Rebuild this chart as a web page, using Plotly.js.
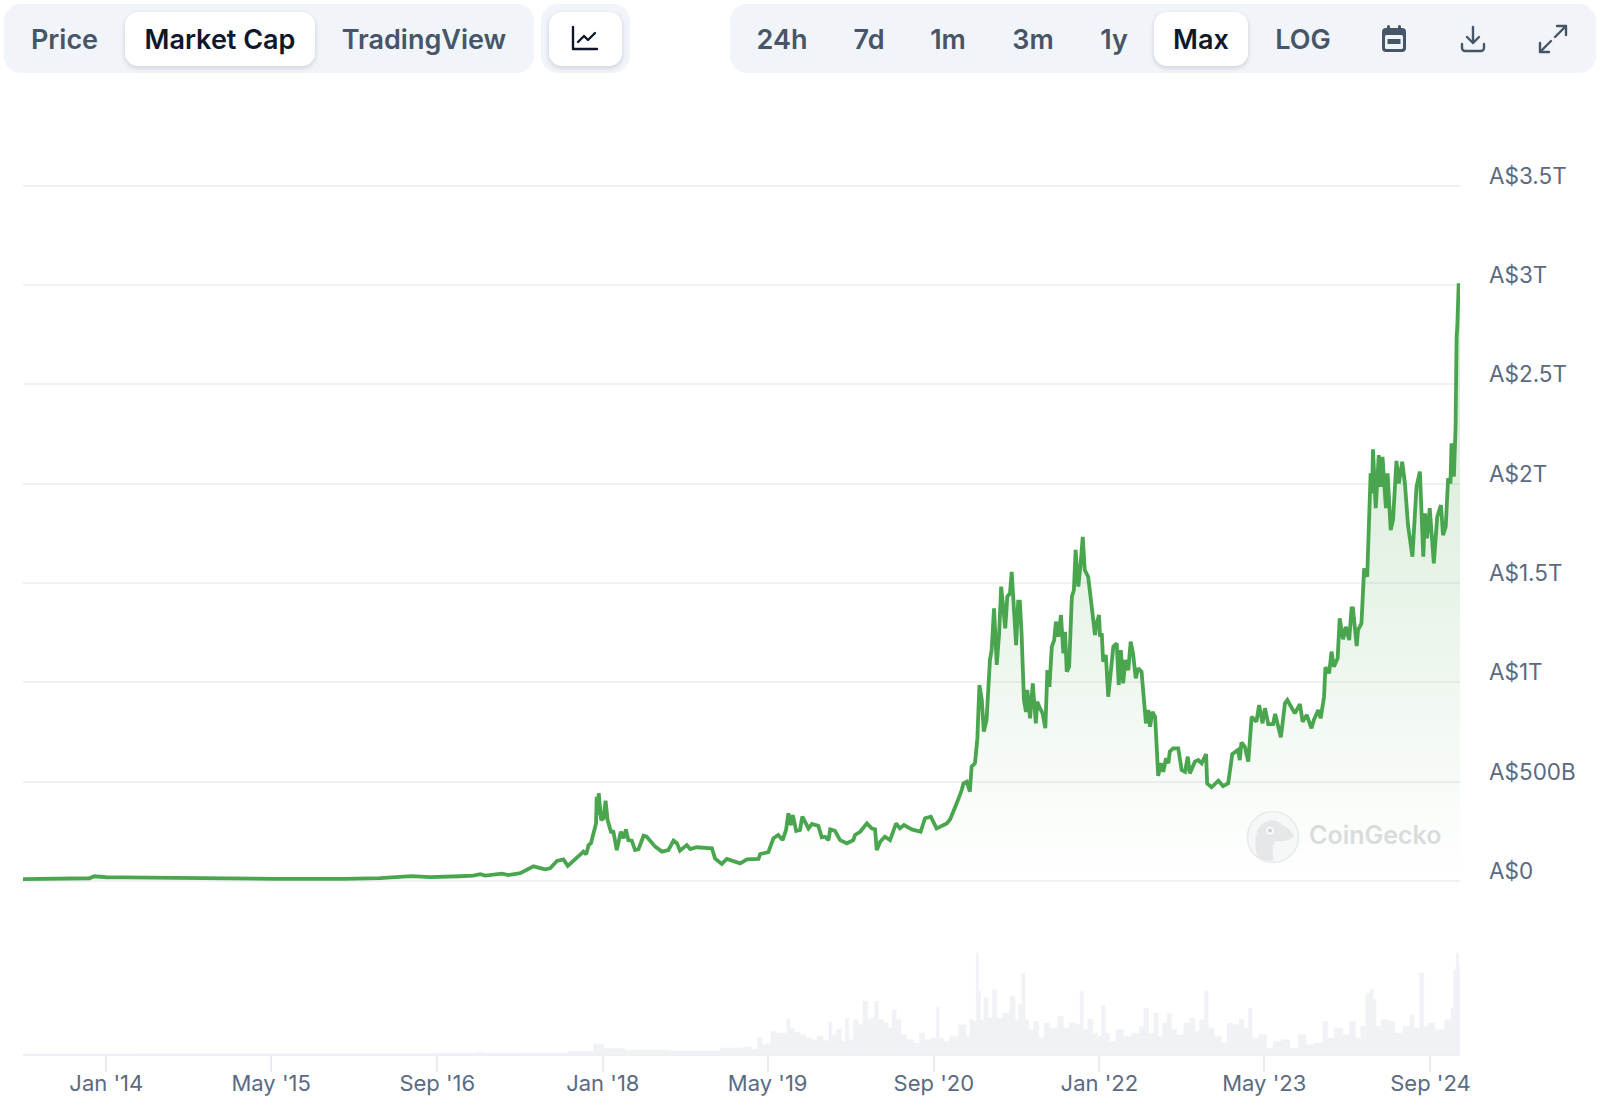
<!DOCTYPE html>
<html>
<head>
<meta charset="utf-8">
<script src="https://cdn.plot.ly/plotly-3.0.1.min.js"></script>
<style>
html,body{margin:0;padding:0;background:#fff;width:1600px;height:1108px;overflow:hidden;font-family:Inter,sans-serif}
#chart{position:absolute;left:0;top:0;width:1600px;height:1108px}
.bar{position:absolute;top:4px;height:69px;background:#f1f4f9;border-radius:17px}
.btn{position:absolute;top:12px;height:54px;background:#fff;border-radius:13px;box-shadow:0 2px 5px rgba(15,23,42,.16)}
.t{position:absolute;top:38.5px;transform:translate(-50%,-50%);font-size:27px;font-weight:600;color:#475569;white-space:nowrap;line-height:1}
.t.on{color:#0f172a}
.i{position:absolute;transform:translate(-50%,-50%);top:38.5px}
#logo{position:absolute;left:1245px;top:809px}
</style>
</head>
<body>
<div id="chart"></div>
<div class="bar" style="left:4px;width:530px"></div>
<div class="bar" style="left:541px;width:89px"></div>
<div class="bar" style="left:730px;width:866px"></div>
<div class="btn" style="left:125px;width:190px"></div>
<div class="btn" style="left:549px;width:73px"></div>
<div class="btn" style="left:1154px;width:94px"></div>
<div class="t" style="left:64.5px">Price</div>
<div class="t on" style="left:220px">Market Cap</div>
<div class="t" style="left:424px">TradingView</div>
<div class="t" style="left:782px">24h</div>
<div class="t" style="left:869px">7d</div>
<div class="t" style="left:948px">1m</div>
<div class="t" style="left:1033px">3m</div>
<div class="t" style="left:1114px">1y</div>
<div class="t on" style="left:1201px">Max</div>
<div class="t" style="left:1303px">LOG</div>
<svg class="i" style="left:585px" width="30" height="30" viewBox="0 0 30 30" fill="none" stroke="#0f172a" stroke-width="2.4" stroke-linecap="round" stroke-linejoin="round"><path d="M3 3v22h24"/><path d="M8 18l6-6 4 4 7-7"/></svg>
<svg class="i" style="left:1394px" width="28" height="30" viewBox="0 0 28 30"><rect x="2" y="4" width="24" height="24" rx="4" fill="#475569"/><rect x="5" y="11" width="18" height="14" rx="1.5" fill="#f1f4f9"/><rect x="7.5" y="15" width="13" height="5" fill="#475569"/><rect x="7" y="1" width="3" height="6" rx="1.5" fill="#475569"/><rect x="18" y="1" width="3" height="6" rx="1.5" fill="#475569"/></svg>
<svg class="i" style="left:1473px" width="30" height="30" viewBox="0 0 30 30" fill="none" stroke="#475569" stroke-width="2.4" stroke-linecap="round" stroke-linejoin="round"><path d="M15 3v16M9 13l6 6 6-6"/><path d="M4 20v4a3 3 0 0 0 3 3h16a3 3 0 0 0 3-3v-4"/></svg>
<svg class="i" style="left:1553px" width="32" height="32" viewBox="0 0 32 32" fill="none" stroke="#475569" stroke-width="2.4" stroke-linecap="round" stroke-linejoin="round"><path d="M20 3h9v9M29 3L18 14"/><path d="M12 29H3v-9M3 29l11-11"/></svg>
<svg id="logo" width="56" height="56" viewBox="0 0 56 56"><circle cx="28" cy="28" r="25.5" fill="#f6f7f7" stroke="#e9eaeb" stroke-width="1.6"/><path d="M12 47C9 32 10 19 19 14c7-4 14-3 18 2 5 2 10 6 12 11-4 5-12 6-19 5-3 4-3 11-1 19-6 2-12 0-17-4z" fill="#e6e7e8"/><circle cx="25" cy="21.5" r="4" fill="#f9f9f9"/><circle cx="25" cy="21.5" r="2" fill="#cfd0d2"/></svg>

<script>
// Time axis: days counted from 1 Jan 2014
const priceDays = [-245,-170,-100,-50,-35,-15,0,50,150,300,500,700,806,899,953,1041,1080,1100,1115,1164,1183,1218,1238,1257,1291,1306,1326,1345,1358,1385,1404,1412,1419,1426,1433,1441,1443,1446,1449,1456,1463,1469,1475,1485,1492,1502,1514,1522,1529,1536,1546,1556,1566,1581,1590,1615,1635,1654,1669,1679,1688,1708,1718,1737,1782,1791,1811,1826,1865,1885,1919,1924,1948,1963,1977,1990,2000,2007,2014,2020,2030,2041,2048,2066,2076,2095,2105,2115,2125,2130,2144,2159,2179,2198,2203,2218,2238,2252,2262,2267,2277,2291,2306,2324,2335,2347,2370,2396,2409,2426,2443,2473,2483,2494,2506,2517,2522,2532,2541,2546,2556,2563,2569,2576,2582,2590,2595,2600,2605,2612,2620,2627,2633,2639,2645,2651,2659,2664,2669,2677,2683,2688,2693,2700,2706,2710,2718,2726,2735,2739,2747,2755,2763,2769,2775,2782,2789,2794,2801,2809,2816,2821,2826,2833,2841,2847,2852,2860,2867,2873,2879,2889,2896,2902,2909,2914,2921,2924,2929,2933,2941,2948,2955,2963,2973,2979,2985,2992,2998,3007,3014,3021,3029,3036,3046,3053,3059,3066,3071,3078,3086,3095,3103,3110,3118,3125,3129,3139,3154,3164,3174,3182,3188,3203,3213,3223,3236,3239,3252,3272,3286,3301,3308,3313,3330,3335,3340,3350,3360,3370,3384,3392,3402,3409,3419,3433,3439,3448,3456,3468,3475,3497,3512,3520,3532,3546,3553,3566,3573,3583,3587,3598,3605,3612,3623,3629,3639,3647,3657,3664,3668,3679,3683,3693,3696,3701,3710,3715,3720,3724,3727,3735,3744,3750,3755,3765,3770,3779,3786,3796,3803,3813,3821,3830,3843,3855,3865,3875,3880,3886,3894,3906,3916,3927,3933,3941,3948,3955,3958,3965,3970,3973,3975,3979,3983];
// Market cap, A$ billions
const marketCap = [9,10,12,14,24,20,19,18,16,13,11,11,15,25,20,24,27,34,27,37,30,40,57,74,59,64,101,109,76,122,148,134,181,190,240,290,424,332,442,307,316,404,307,248,248,156,248,215,260,206,203,156,160,228,223,173,148,156,203,190,153,181,161,170,165,114,86,111,89,109,111,136,145,215,232,206,257,341,282,332,252,257,324,265,287,278,220,223,206,260,253,206,190,206,232,248,290,265,260,156,198,223,206,290,265,282,260,248,316,324,265,290,311,352,408,458,492,500,450,576,593,718,987,911,752,811,945,1113,1163,1373,1088,1247,1482,1364,1272,1431,1449,1557,1431,1188,1406,1406,1247,911,852,962,819,995,794,903,870,844,769,1062,978,1180,1213,1306,1230,1339,1146,1255,1054,1079,1431,1465,1667,1482,1600,1733,1566,1532,1431,1331,1239,1297,1339,1230,1247,1104,1138,928,1029,1180,1197,987,1163,995,1113,1062,1205,1146,1021,1071,1054,895,794,861,777,852,827,529,593,550,618,593,651,668,668,559,550,626,542,601,609,593,639,492,472,505,478,492,593,639,660,609,698,676,601,827,802,886,794,870,790,790,841,769,724,895,911,844,891,802,836,769,811,861,819,928,1076,1046,1155,1079,1121,1323,1217,1280,1213,1373,1373,1183,1264,1297,1423,1574,1532,1885,2053,1952,2174,1877,2145,1985,2136,1877,2053,1767,1818,2115,2002,2111,2002,1792,1633,1985,2061,1633,1851,1725,1877,1600,1834,1893,1742,1784,2028,2002,2204,2036,2287,2741,2791,3000,3000];
const volumeDays = [-245,400,864,1070,1100,1129,1300,1423,1444,1482,1570,1747,1865,1885,1909,1924,1934,1948,1963,1983,1997,2007,2017,2032,2051,2066,2086,2095,2122,2130,2139,2157,2169,2181,2188,2208,2218,2235,2245,2255,2267,2277,2296,2306,2318,2331,2345,2365,2384,2402,2414,2438,2448,2453,2473,2492,2524,2536,2546,2556,2563,2569,2576,2588,2600,2615,2625,2649,2669,2680,2688,2700,2706,2723,2735,2752,2767,2786,2811,2821,2845,2860,2871,2879,2896,2909,2923,2934,2944,2958,2983,3002,3032,3047,3058,3076,3089,3102,3115,3128,3140,3159,3181,3196,3210,3223,3238,3247,3272,3291,3304,3326,3340,3355,3365,3377,3404,3424,3443,3473,3492,3522,3537,3571,3588,3600,3627,3649,3667,3684,3698,3713,3723,3733,3739,3762,3781,3801,3830,3843,3855,3873,3880,3894,3924,3953,3961,3968,3975,3983];
// 24h volume, A$ billions
const volume = [0,1,1,3,6,3,4,10,40,22,16,12,24,28,20,68,37,41,91,84,84,140,104,87,77,64,57,71,53,130,77,100,51,144,57,137,117,211,137,144,211,137,124,104,177,137,77,57,44,84,57,64,187,64,51,71,117,71,137,131,404,251,137,224,144,257,144,164,231,137,197,324,137,97,131,64,124,104,151,104,124,117,251,97,140,84,71,195,84,51,97,71,84,111,184,84,164,71,124,161,97,77,124,144,91,137,251,104,71,44,124,117,137,104,184,64,77,24,51,57,24,77,37,44,131,64,104,77,131,64,111,244,257,217,111,137,131,84,111,157,104,324,111,124,97,137,184,337,404,351];
const yTickValues = [0,500,1000,1500,2000,2500,3000,3500];
const yTickLabels = ['A$0','A$500B','A$1T','A$1.5T','A$2T','A$2.5T','A$3T','A$3.5T'];
const xTickDates = ['2014-01-01','2015-05-01','2016-09-01','2018-01-01','2019-05-01','2020-09-01','2022-01-01','2023-05-01','2024-09-01'];
const xTickLabels = ["Jan '14","May '15","Sep '16","Jan '18","May '19","Sep '20","Jan '22","May '23","Sep '24"];

const toDate = d => new Date(Date.UTC(2014,0,1+d)).toISOString().slice(0,10);
const font = {family:'Inter, sans-serif',size:22,color:'#5b6a82'};

Plotly.newPlot('chart',[
  {type:'scatter',mode:'lines',x:volumeDays.map(toDate),y:volume,xaxis:'x',yaxis:'y2',
   fill:'tozeroy',fillcolor:'#f1f2f6',line:{color:'#f1f2f6',width:0.5,shape:'hvh'},hoverinfo:'skip'},
  {type:'scatter',mode:'lines',x:priceDays.map(toDate),y:marketCap,xaxis:'x',yaxis:'y',
   fill:'tozeroy',
   fillgradient:{type:'vertical',start:0,stop:3000,
     colorscale:[[0,'rgba(74,166,78,0)'],[1,'rgba(74,166,78,0.26)']]},
   line:{color:'#4aa64e',width:3.8,shape:'linear'},hoverinfo:'skip'}
],{
  width:1600,height:1108,
  margin:{l:22.5,r:140,t:0,b:54,pad:0},
  paper_bgcolor:'#fff',plot_bgcolor:'#fff',showlegend:false,font:font,
  xaxis:{type:'date',anchor:'y2',range:[toDate(-245),toDate(3983)],tickmode:'array',
    tickvals:xTickDates,ticktext:xTickLabels,ticks:'outside',ticklen:16,tickwidth:1.5,tickcolor:'#e9ecf1',
    showgrid:false,showline:true,linecolor:'#eef0f4',linewidth:2,zeroline:false,tickfont:font,tickangle:0,ticklabelstandoff:-7},
  yaxis:{domain:[0.16224,0.82552],range:[-10,3510],anchor:'x',side:'right',tickmode:'array',
    tickvals:yTickValues,ticktext:yTickLabels,showgrid:true,gridcolor:'#f0f1f4',gridwidth:2,
    zeroline:false,showline:false,ticks:'',ticklabelstandoff:28,ticklabelshift:-10,tickfont:Object.assign({},font,{size:22.5})},
  yaxis2:{domain:[0,0.1],range:[0,422],anchor:'x',showgrid:false,zeroline:false,showline:false,showticklabels:false,ticks:''},
  annotations:[{text:'CoinGecko',xref:'paper',yref:'paper',x:(1307-22.5)/1437.5,y:(1054-835)/1054,
    xanchor:'left',yanchor:'middle',showarrow:false,font:{family:'Inter, sans-serif',size:25,color:'#d9dbdd',weight:600}}]
},{displayModeBar:false,responsive:false});
</script>
</body>
</html>
